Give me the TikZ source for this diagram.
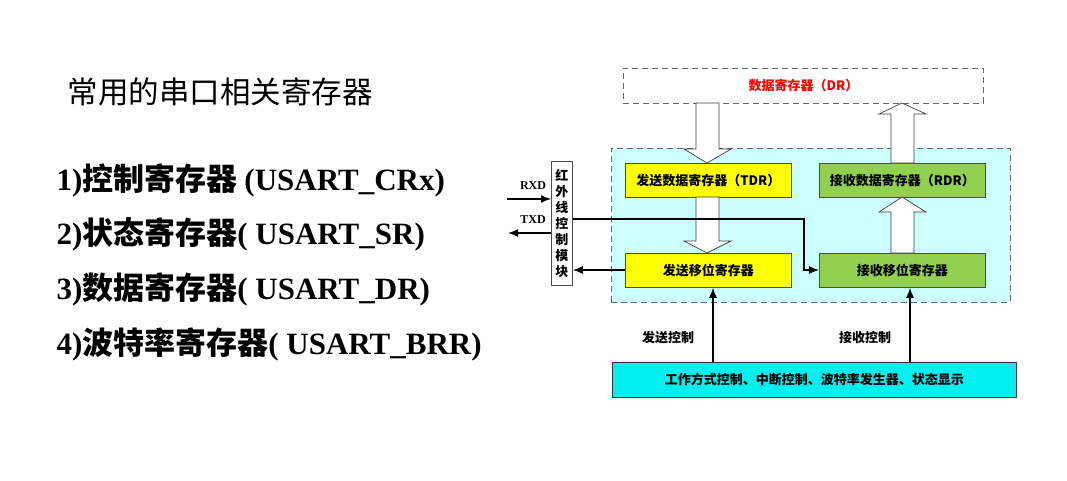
\documentclass[tikz,border=0pt]{standalone}
\usepackage{fontspec}
\setmainfont{Liberation Serif}
\newfontfamily\cjk{Noto Sans CJK SC}
\usetikzlibrary{arrows.meta}
\definecolor{cyanbg}{RGB}{204,255,255}
\definecolor{ybox}{RGB}{255,255,0}
\definecolor{gbox}{RGB}{146,208,80}
\definecolor{botbox}{RGB}{0,240,240}
\begin{document}
\begin{tikzpicture}[x=1pt,y=-1pt,
  reg/.style={draw=black!70,line width=0.8pt,minimum width=166pt,minimum height=34pt,anchor=north west,inner sep=0pt,font=\cjk\bfseries\fontsize{13}{13}\selectfont},
  hollow/.style={draw=black!75,fill=white,line width=0.7pt},
  sig/.style={line width=1.4pt,-{Latex[length=10pt,width=8pt]}},
  lbl/.style={font=\cjk\bfseries\fontsize{13}{13}\selectfont},
  item/.style={anchor=west,font=\bfseries\fontsize{31}{31}\selectfont}]
\useasboundingbox (0,0) rectangle (1067,480);
% left text
\node[anchor=west,font=\cjk\fontsize{30.5}{30}\selectfont] (title) at (64,92) {常用的串口相关寄存器};
\node[item] (i1) at (53,180) {1)\cjk 控制寄存器 \rmfamily(USART\_CRx)};
\node[item] (i2) at (53,234) {2)\cjk 状态寄存器\rmfamily( USART\_SR)};
\node[item] (i3) at (53,289) {3)\cjk 数据寄存器\rmfamily( USART\_DR)};
\node[item] (i4) at (53,344) {4)\cjk 波特率寄存器\rmfamily( USART\_BRR)};
% DR dashed box
\node[draw=black!60,dashed,dash pattern=on 6pt off 4pt,line width=0.8pt,minimum width=360pt,minimum height=35pt,anchor=north west,inner sep=0pt,
  text=red,font=\cjk\bfseries\fontsize{13}{13}\selectfont] (dr) at (623,68) {数据寄存器（DR）};
% cyan area
\node[draw=black!60,fill=cyanbg,dash pattern=on 6pt off 4pt,line width=0.8pt,minimum width=399pt,minimum height=154pt,anchor=north west,inner sep=0pt] (area) at (611,148) {};
% registers
\node[reg,fill=ybox] (tdr) at (625,163) {发送数据寄存器（TDR）};
\node[reg,fill=gbox] (rdr) at (819,163) {接收数据寄存器（RDR）};
\node[reg,fill=ybox] (tsr) at (625,253) {发送移位寄存器};
\node[reg,fill=gbox] (rsr) at (819,253) {接收移位寄存器};
% IR module
\node[draw=black!70,fill=white,line width=0.8pt,minimum width=21pt,minimum height=124pt,anchor=north west,inner sep=0pt,
  align=center,font=\cjk\bfseries\fontsize{13}{16}\selectfont] (ir) at (551,161) {红\\外\\线\\控\\制\\模\\块};
% bottom box
\node[draw=black!80,fill=botbox,line width=0.8pt,minimum width=404pt,minimum height=35pt,anchor=north west,inner sep=0pt,
  font=\cjk\bfseries\fontsize{13}{13}\selectfont] (bot) at (612,362) {工作方式控制、中断控制、波特率发生器、状态显示};
% hollow arrows
\draw[hollow] (696,103) -- (719,103) -- (719,149) -- (731,149) -- (707,163) -- (684,149) -- (696,149) -- cycle;
\draw[hollow] (696,197) -- (719,197) -- (719,241) -- (731,241) -- (707,253) -- (684,241) -- (696,241) -- cycle;
\draw[hollow] (891,163) -- (914,163) -- (914,114) -- (926,114) -- (902,103) -- (879,114) -- (891,114) -- cycle;
\draw[hollow] (891,253) -- (914,253) -- (914,212) -- (926,212) -- (902,197) -- (879,212) -- (891,212) -- cycle;
% signals
\coordinate (rxin) at (507,199);
\coordinate (txout) at (508,233);
\draw[sig] (rxin) -- (ir.west |- rxin);
\draw[sig] (ir.west |- txout) -- (txout);
\node[font=\bfseries\fontsize{12}{12}\selectfont] (rxl) at (533,186) {RXD};
\node[font=\bfseries\fontsize{12}{12}\selectfont] (txl) at (533,220) {TXD};
\draw[sig] (ir.east |- 0,219) -- (804,219) -- (804,270) -- (rsr.west |- 0,270);
\draw[sig] (tsr.west |- 0,270) -- (ir.east |- 0,270);
\draw[sig] (bot.north -| 713,0) -- (tsr.south -| 713,0);
\draw[sig] (bot.north -| 910,0) -- (rsr.south -| 910,0);
\node[lbl] (l1) at (668,338) {发送控制};
\node[lbl] (l2) at (865,338) {接收控制};
\end{tikzpicture}
\end{document}
